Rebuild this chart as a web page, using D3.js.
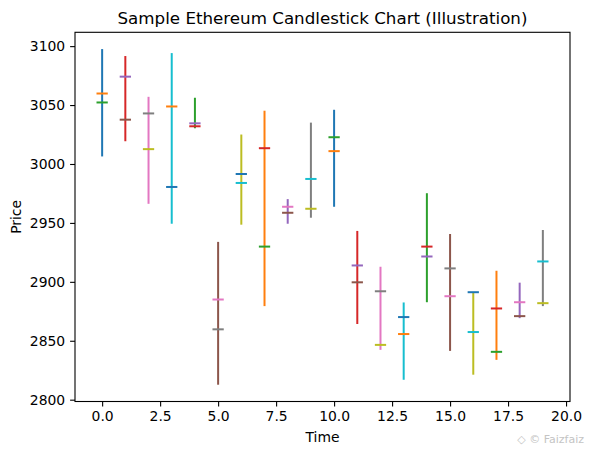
<!DOCTYPE html>
<html>
<head>
<meta charset="utf-8">
<script src="https://cdn.jsdelivr.net/npm/d3@7"></script>
<style>
  body { margin: 0; background: #fff; }
  text { font-family: "DejaVu Sans", sans-serif; }
</style>
</head>
<body>
<div id="chart"></div>
<script>
// candle data
const time = d3.range(20);
const open = [3059.8, 3074.1, 3042.9, 2980.5, 3032.0, 2885.0, 2983.9, 2929.9, 2958.6, 2962.0,
              3010.9, 2913.9, 2892.0, 2870.1, 2929.9, 2887.8, 2857.4, 2840.6, 2870.9, 2881.9];
const close = [3052.2, 3037.6, 3012.6, 3048.8, 3034.5, 2859.7, 2991.5, 3013.4, 2963.7, 2987.3,
               3022.7, 2899.6, 2846.5, 2855.7, 2921.5, 2911.4, 2891.2, 2877.4, 2882.7, 2917.3];
const high = [3097.5, 3091.6, 3057.0, 3094.1, 3056.2, 2933.9, 3025.0, 3045.2, 2970.2, 3035.1,
              3046.0, 2943.2, 2912.8, 2882.5, 2975.2, 2940.6, 2891.2, 2909.4, 2899.3, 2944.0];
const low = [3006.4, 3019.3, 2966.2, 2949.3, 3030.3, 2812.7, 2948.5, 2879.4, 2949.3, 2954.4,
             2963.7, 2864.2, 2842.3, 2816.9, 2882.7, 2841.4, 2821.2, 2833.8, 2869.2, 2879.4];
const xTicks = [0, 2.5, 5, 7.5, 10, 12.5, 15, 17.5, 20];
const yTicks = [2800, 2850, 2900, 2950, 3000, 3050, 3100];

const palette = ["#1f77b4", "#ff7f0e", "#2ca02c", "#d62728", "#9467bd",
                 "#8c564b", "#e377c2", "#7f7f7f", "#bcbd22", "#17becf"];

const width = 591, height = 455;
const margin = { top: 32.3, right: 21, bottom: 53.5, left: 75 };
const tickHalf = 0.2;

const candles = time.map((t, i) => ({
  t, open: open[i], close: close[i], high: high[i], low: low[i],
  // one colour per plotting call: vline, open tick, close tick
  cLine: palette[(3 * i) % 10],
  cOpen: palette[(3 * i + 1) % 10],
  cClose: palette[(3 * i + 2) % 10]
}));

// matplotlib-style 5% padding around the data limits
const pad = (lo, hi) => { const r = hi - lo; return [lo - 0.05 * r, hi + 0.05 * r]; };
const xDom = pad(d3.min(time) - tickHalf, d3.max(time) + tickHalf);
const yDom = pad(d3.min(low), d3.max(high));

const x = d3.scaleLinear().domain(xDom).range([margin.left, width - margin.right]);
const y = d3.scaleLinear().domain(yDom).range([height - margin.bottom, margin.top]);

const svg = d3.select("#chart").append("svg")
  .attr("width", width)
  .attr("height", height);

const g = svg.append("g");

candles.forEach(d => {
  g.append("line")
    .attr("x1", x(d.t)).attr("x2", x(d.t))
    .attr("y1", y(d.high)).attr("y2", y(d.low))
    .attr("stroke", d.cLine)
    .attr("stroke-width", 2);
  g.append("line")
    .attr("x1", x(d.t - tickHalf)).attr("x2", x(d.t + tickHalf))
    .attr("y1", y(d.open)).attr("y2", y(d.open))
    .attr("stroke", d.cOpen)
    .attr("stroke-width", 2)
    .attr("stroke-linecap", "square");
  g.append("line")
    .attr("x1", x(d.t - tickHalf)).attr("x2", x(d.t + tickHalf))
    .attr("y1", y(d.close)).attr("y2", y(d.close))
    .attr("stroke", d.cClose)
    .attr("stroke-width", 2)
    .attr("stroke-linecap", "square");
});

// axes
const xAxis = d3.axisBottom(x).tickValues(xTicks).tickFormat(d3.format(".1f"))
  .tickSize(4.9).tickPadding(4.9).tickSizeOuter(0);
const yAxis = d3.axisLeft(y).tickValues(yTicks).tickFormat(d3.format("d"))
  .tickSize(4.9).tickPadding(4.9).tickSizeOuter(0);

const gx = svg.append("g")
  .attr("transform", `translate(0,${height - margin.bottom})`)
  .call(xAxis);
const gy = svg.append("g")
  .attr("transform", `translate(${margin.left},0)`)
  .call(yAxis);

[gx, gy].forEach(a => {
  a.select(".domain").remove();
  a.selectAll(".tick line").attr("stroke", "#000").attr("stroke-width", 1.1);
  a.selectAll(".tick text")
    .attr("fill", "#000")
    .style("font-size", "13.9px")
    .style("font-family", "DejaVu Sans, sans-serif");
});

// frame
svg.append("rect")
  .attr("x", margin.left).attr("y", margin.top)
  .attr("width", width - margin.left - margin.right)
  .attr("height", height - margin.top - margin.bottom)
  .attr("fill", "none")
  .attr("stroke", "#000")
  .attr("stroke-width", 1.1);

// labels
svg.append("text")
  .attr("x", (margin.left + width - margin.right) / 2)
  .attr("y", 24)
  .attr("text-anchor", "middle")
  .style("font-size", "16.7px")
  .text("Sample Ethereum Candlestick Chart (Illustration)");

svg.append("text")
  .attr("x", (margin.left + width - margin.right) / 2)
  .attr("y", 442)
  .attr("text-anchor", "middle")
  .style("font-size", "13.9px")
  .text("Time");

svg.append("text")
  .attr("transform", `translate(21,${(margin.top + height - margin.bottom) / 2}) rotate(-90)`)
  .attr("text-anchor", "middle")
  .style("font-size", "13.9px")
  .text("Price");

// watermark
svg.append("text")
  .attr("x", 584)
  .attr("y", 443)
  .attr("text-anchor", "end")
  .attr("fill", "#c4c4c4")
  .style("font-size", "11px")
  .text("◇ © Faizfaiz");
</script>
</body>
</html>
